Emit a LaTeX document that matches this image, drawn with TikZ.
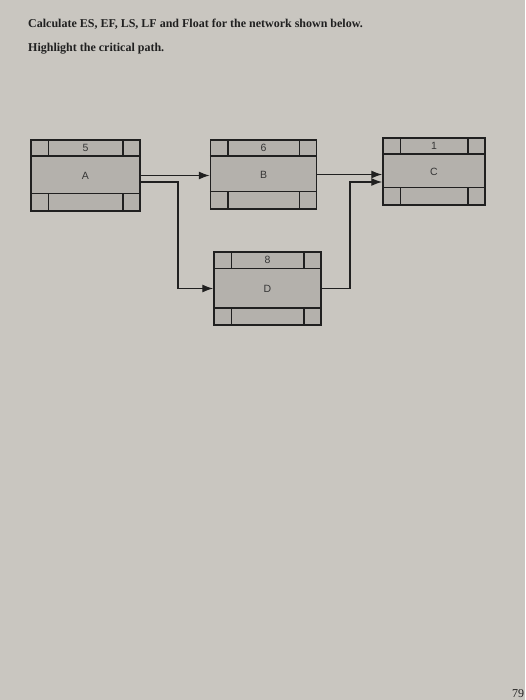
\documentclass[tikz,border=0pt]{standalone}
\usepackage{fontspec}
\setmainfont{Liberation Serif}
\newfontfamily\boxfont{Liberation Sans}
\usetikzlibrary{calc,arrows.meta}
\definecolor{paper}{HTML}{C9C6C0}
\definecolor{boxfill}{HTML}{B4B1AC}
\definecolor{ink}{HTML}{202020}
\tikzset{
  actnode/.style={draw=ink, fill=boxfill, line width=1.5pt, inner sep=0pt, rectangle},
  boxline/.style={draw=ink, line width=1.5pt},
  arr/.style={draw=ink, line width=1.3pt, -{Latex[length=11pt,width=8pt]}},
  boxtext/.style={font=\boxfont\fontsize{10.5}{12}\selectfont, text=ink!90},
  head/.style={font=\fontsize{12}{14}\selectfont\bfseries, text=ink, anchor=base west, inner sep=0pt}
}
\begin{document}
\begin{tikzpicture}[x=1pt,y=-1pt]
\useasboundingbox (0,0) rectangle (525,700);
\fill[paper] (0,0) rectangle (525,700);
\node[head] (t1) at (28,28) {Calculate ES, EF, LS, LF and Float for the network shown below.};
\node[head] (t2) at (28,52) {Highlight the critical path.};

\node[actnode, minimum width=109pt, minimum height=71pt] (A) at (85.5,175.5) {};
\node[actnode, minimum width=106pt, minimum height=69pt] (B) at (263.5,174.5) {};
\node[actnode, minimum width=102pt, minimum height=67pt] (C) at (434,171.5) {};
\node[actnode, minimum width=107pt, minimum height=73pt] (D) at (267.5,288.5) {};

\foreach \n/\d/\l in {A/5/A,B/6/B,C/1/C,D/8/D}{
  \draw[boxline] ($(\n.north west)+(0,17)$) -- ($(\n.north east)+(0,17)$);
  \draw[boxline] ($(\n.south west)+(0,-18)$) -- ($(\n.south east)+(0,-18)$);
  \draw[boxline] ($(\n.north west)+(18,0)$) -- ($(\n.north west)+(18,17)$);
  \draw[boxline] ($(\n.north east)+(-18,0)$) -- ($(\n.north east)+(-18,17)$);
  \draw[boxline] ($(\n.south west)+(18,0)$) -- ($(\n.south west)+(18,-18)$);
  \draw[boxline] ($(\n.south east)+(-18,0)$) -- ($(\n.south east)+(-18,-18)$);
  \node[boxtext] (\n dur) at ($(\n.north)+(0,9)$) {\d};
  \node[boxtext] (\n lab) at ($(\n.center)+(0,0)$) {\l};
}

\coordinate (ad1) at ($(A.east)+(0,6.5)$);
\coordinate (dc1) at ($(C.west)+(0,10.5)$);
\draw[arr] (A.east) -- (A.east -| B.west);
\draw[arr] (ad1) -- (178,182) |- (D.west);
\draw[arr] (B.east) -- (B.east -| C.west);
\draw[arr] (D.east) -- (350,288.5) |- (dc1);

\node[font=\fontsize{12}{14}\selectfont, text=ink, anchor=base west, inner sep=0pt] (pg) at (512,697) {79};
\end{tikzpicture}
\end{document}
